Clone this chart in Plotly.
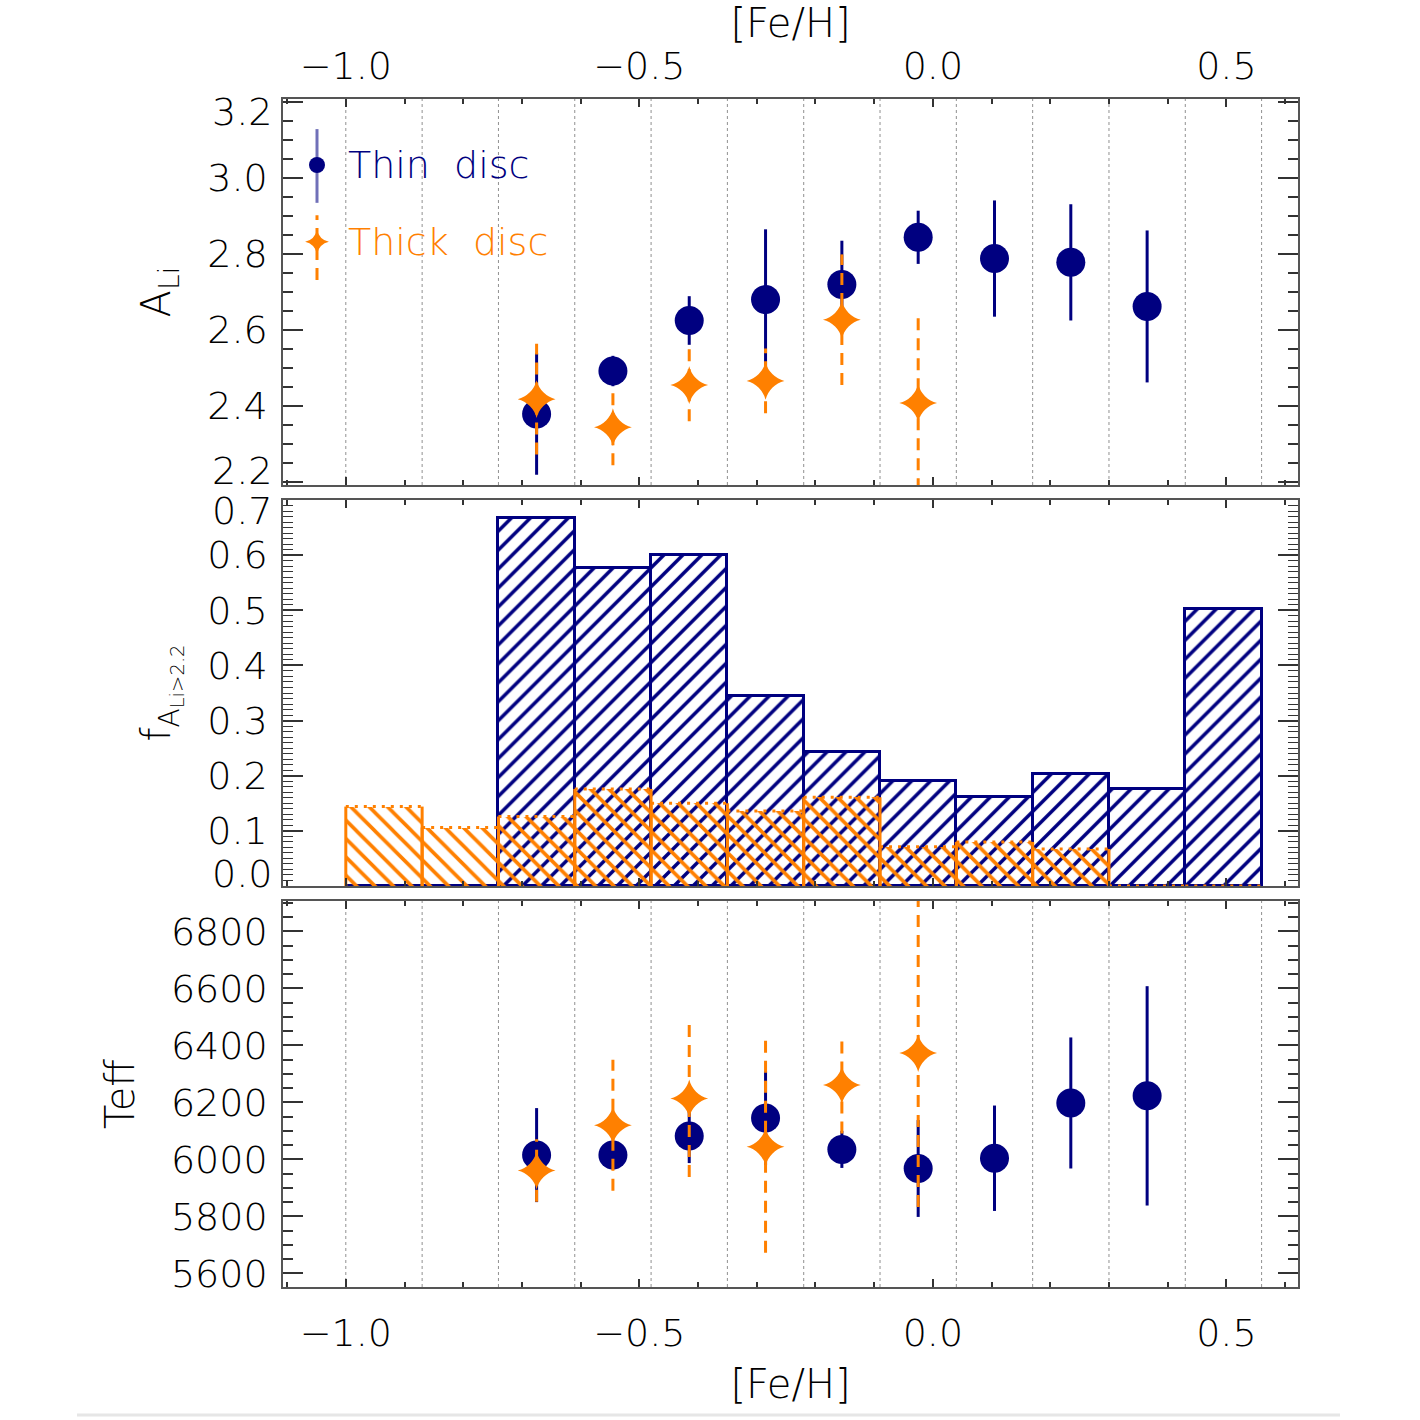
import plotly.graph_objects as go

# ---------------- data ----------------
bin_edges = [-1.00, -0.87, -0.74, -0.61, -0.48, -0.35, -0.22, -0.09, 0.04, 0.17, 0.30, 0.43, 0.56]
bin_centers = [-0.935, -0.805, -0.675, -0.545, -0.415, -0.285, -0.155, -0.025, 0.105, 0.235, 0.365, 0.495]

frac_thin = [0.0, 0.0, 0.667, 0.577, 0.601, 0.345, 0.243, 0.190, 0.161, 0.203, 0.176, 0.502]
frac_thick = [0.144, 0.106, 0.126, 0.176, 0.150, 0.136, 0.161, 0.071, 0.080, 0.067, 0.0, 0.0]

feh_thin = [-0.675, -0.545, -0.415, -0.285, -0.155, -0.025, 0.105, 0.235, 0.365]
li_thin = [2.379, 2.492, 2.625, 2.680, 2.720, 2.844, 2.788, 2.778, 2.662]
li_thin_err = [0.16, 0.04, 0.064, 0.185, 0.115, 0.07, 0.153, 0.153, 0.20]
teff_thin = [6015, 6015, 6082, 6145, 6035, 5968, 6004, 6198, 6223]
teff_thin_err = [165, 50, 95, 165, 65, 170, 185, 230, 385]

feh_thick = [-0.675, -0.545, -0.415, -0.285, -0.155, -0.025]
li_thick = [2.418, 2.344, 2.455, 2.466, 2.627, 2.408]
li_thick_err = [0.146, 0.10, 0.095, 0.085, 0.172, 0.23]
teff_thick = [5961, 6120, 6214, 6044, 6261, 6373]
teff_thick_err = [110, 230, 276, 372, 170, 540]

x_tickvals = [-1.0, -0.5, 0.0, 0.5]
li_ticks = [2.2, 2.4, 2.6, 2.8, 3.0, 3.2]
frac_ticks = [0.0, 0.1, 0.2, 0.3, 0.4, 0.5, 0.6, 0.7]
teff_ticks = [5600, 5800, 6000, 6200, 6400, 6600, 6800]

# ---------------- style ----------------
NAVY = "#000080"
ORANGE = "#ff8000"
FONT = "DejaVu Sans"
FW = 200
XR = [-1.107, 0.622]
XDOM = [283 / 1420, 1298 / 1420]


def ydom(top_px, bot_px):
    return [1 - bot_px / 1420, 1 - top_px / 1420]


def err_segments(xs, ys, es):
    X, Y = [], []
    for x, y, e in zip(xs, ys, es):
        X += [x, x, None]
        Y += [y - e, y + e, None]
    return X, Y


fig = go.Figure()

# ---------------- top panel: A(Li) ----------------
ex, ey = err_segments(feh_thin, li_thin, li_thin_err)
fig.add_trace(go.Scatter(x=ex, y=ey, mode="lines", line=dict(color=NAVY, width=3),
                         xaxis="x", yaxis="y", showlegend=False, hoverinfo="skip"))
fig.add_trace(go.Scatter(x=feh_thin, y=li_thin, mode="markers",
                         marker=dict(symbol="circle", size=29, color=NAVY),
                         xaxis="x", yaxis="y", showlegend=False))
ex, ey = err_segments(feh_thick, li_thick, li_thick_err)
fig.add_trace(go.Scatter(x=ex, y=ey, mode="lines", line=dict(color=ORANGE, width=3, dash="12px,8px"),
                         xaxis="x", yaxis="y", showlegend=False, hoverinfo="skip"))
fig.add_trace(go.Scatter(x=feh_thick, y=li_thick, mode="markers",
                         marker=dict(symbol="star-diamond", size=27, color=ORANGE),
                         xaxis="x", yaxis="y", showlegend=False))

# ---------------- middle panel: fractions ----------------
widths = [bin_edges[i + 1] - bin_edges[i] for i in range(len(bin_centers))]
fig.add_trace(go.Bar(x=bin_centers, y=frac_thin, width=widths, opacity=1,
                     marker=dict(color=NAVY, opacity=1, line=dict(color=NAVY, width=3),
                                 pattern=dict(shape="/", size=13.4, solidity=0.26, fgcolor=NAVY,
                                              fgopacity=1, fillmode="replace",
                                              bgcolor="rgba(0,0,0,0)")),
                     xaxis="x2", yaxis="y2", showlegend=False))
fig.add_trace(go.Bar(x=bin_centers, y=frac_thick, width=widths, opacity=1,
                     marker=dict(color=ORANGE, opacity=1, line=dict(width=0),
                                 pattern=dict(shape="\\", size=13.0, solidity=0.28, fgcolor=ORANGE,
                                              fgopacity=1, fillmode="replace",
                                              bgcolor="rgba(0,0,0,0)")),
                     xaxis="x2", yaxis="y2", showlegend=False))
# thick-disc outline: solid sides, dotted tops
vx, vy, tx, ty = [], [], [], []
for i, h in enumerate(frac_thick):
    l, r = bin_edges[i], bin_edges[i + 1]
    tx += [l, r, None]
    ty += [h, h, None]
    if h > 0:
        vx += [l, l, None, r, r, None]
        vy += [0, h, None, 0, h, None]
fig.add_trace(go.Scatter(x=vx, y=vy, mode="lines", line=dict(color=ORANGE, width=3),
                         xaxis="x2", yaxis="y2", showlegend=False, hoverinfo="skip"))
fig.add_trace(go.Scatter(x=tx, y=ty, mode="lines", line=dict(color=ORANGE, width=3, dash="3px,6px"),
                         xaxis="x2", yaxis="y2", showlegend=False, hoverinfo="skip", cliponaxis=False))

# ---------------- bottom panel: Teff ----------------
ex, ey = err_segments(feh_thin, teff_thin, teff_thin_err)
fig.add_trace(go.Scatter(x=ex, y=ey, mode="lines", line=dict(color=NAVY, width=3),
                         xaxis="x3", yaxis="y3", showlegend=False, hoverinfo="skip"))
fig.add_trace(go.Scatter(x=feh_thin, y=teff_thin, mode="markers",
                         marker=dict(symbol="circle", size=29, color=NAVY),
                         xaxis="x3", yaxis="y3", showlegend=False))
ex, ey = err_segments(feh_thick, teff_thick, teff_thick_err)
fig.add_trace(go.Scatter(x=ex, y=ey, mode="lines", line=dict(color=ORANGE, width=3, dash="12px,8px"),
                         xaxis="x3", yaxis="y3", showlegend=False, hoverinfo="skip"))
fig.add_trace(go.Scatter(x=feh_thick, y=teff_thick, mode="markers",
                         marker=dict(symbol="star-diamond", size=27, color=ORANGE),
                         xaxis="x3", yaxis="y3", showlegend=False))

# ---------------- legend (overlay axis in top panel) ----------------
fig.add_trace(go.Scatter(x=[0.0335, 0.0335], y=[0.731, 0.922], mode="lines",
                         line=dict(color="#7070b8", width=3), xaxis="x4", yaxis="y4",
                         showlegend=False, hoverinfo="skip"))
fig.add_trace(go.Scatter(x=[0.0335], y=[0.829], mode="markers",
                         marker=dict(symbol="circle", size=16, color=NAVY),
                         xaxis="x4", yaxis="y4", showlegend=False, hoverinfo="skip"))
fig.add_trace(go.Scatter(x=[0.0335, 0.0335], y=[0.531, 0.699], mode="lines",
                         line=dict(color=ORANGE, width=3, dash="12px,8px"), xaxis="x4", yaxis="y4",
                         showlegend=False, hoverinfo="skip"))
fig.add_trace(go.Scatter(x=[0.0335], y=[0.63], mode="markers",
                         marker=dict(symbol="star-diamond", size=17, color=ORANGE),
                         xaxis="x4", yaxis="y4", showlegend=False, hoverinfo="skip"))
fig.add_annotation(x=0.062, y=0.829, xref="x4", yref="y4", text="Thin  disc", showarrow=False,
                   xanchor="left", yanchor="middle", font=dict(family=FONT, size=38, color=NAVY, weight=FW))
fig.add_annotation(x=0.062, y=0.63, xref="x4", yref="y4", text="Thick  disc", showarrow=False,
                   xanchor="left", yanchor="middle", font=dict(family=FONT, size=38, color=ORANGE, weight=FW))

# ---------------- grid lines at bin edges ----------------
for e in bin_edges:
    for xr, yr in (("x", "y"), ("x3", "y3")):
        fig.add_shape(type="line", xref=xr, yref=yr + " domain", x0=e, x1=e, y0=0, y1=1,
                      line=dict(color="#909090", width=1, dash="dot"), layer="below")

# light grey rule at bottom of the page
fig.add_shape(type="line", xref="paper", yref="paper", x0=77 / 1420, x1=1340 / 1420,
              y0=1 - 1415 / 1420, y1=1 - 1415 / 1420, line=dict(color="#e6e6e6", width=3))

tickfont = dict(family=FONT, size=38, color="black", weight=FW)
titlefont = dict(family=FONT, size=40, color="black", weight=FW)
axcommon = dict(showline=True, linecolor="#555555", linewidth=1.5, ticks="inside", mirror="ticks",
                tickcolor="#333333", tickwidth=1.5, showgrid=False, zeroline=False, automargin=False,
                tickfont=tickfont)

xcommon = dict(axcommon, range=XR, domain=XDOM, tickvals=x_tickvals, tickformat=".1f", ticklen=8,
               minor=dict(dtick=0.1, tick0=0, ticklen=5, ticks="inside", tickcolor="#333333", tickwidth=1.5))


def edge_labels(ticks, fmt, yref, lo_shift, hi_shift):
    """Tick labels with the two end labels pulled inward (as in the original)."""
    text = [fmt.format(t) for t in ticks]
    shown = list(text)
    shown[0] = ""
    shown[-1] = ""
    for t, s, sh in ((ticks[0], text[0], lo_shift), (ticks[-1], text[-1], hi_shift)):
        fig.add_annotation(x=XDOM[0], xref="paper", y=t, yref=yref, text=s, showarrow=False,
                           xanchor="right", yanchor="middle", xshift=-9, yshift=sh,
                           font=tickfont)
    return shown


li_text = edge_labels(li_ticks, "{:.1f}", "y", 11, -10)
frac_text = edge_labels(frac_ticks, "{:.1f}", "y2", 12, -11)

fig.update_layout(
    width=1420, height=1420,
    margin=dict(l=0, r=0, t=0, b=0),
    paper_bgcolor="white", plot_bgcolor="rgba(0,0,0,0)",
    barmode="overlay", bargap=0,
    font=dict(family=FONT),
    xaxis=dict(xcommon, side="top", anchor="y", showticklabels=True, ticklabelstandoff=3,
               title=dict(text="[Fe/H]", font=titlefont, standoff=2)),
    xaxis2=dict(xcommon, anchor="y2", showticklabels=False, matches="x"),
    xaxis3=dict(xcommon, anchor="y3", showticklabels=True, ticklabelstandoff=12,
                title=dict(text="[Fe/H]", font=titlefont, standoff=16), matches="x"),
    xaxis4=dict(domain=XDOM, range=[0, 1], visible=False, anchor="y4", overlaying="x"),
    yaxis=dict(axcommon, domain=ydom(99, 485), anchor="x", range=[2.192, 3.208],
               tickvals=li_ticks, ticktext=li_text, ticklen=20, ticklabelstandoff=6,
               minor=dict(dtick=0.05, tick0=2.2, ticklen=10, ticks="inside", tickcolor="#333333", tickwidth=1.5),
               title=dict(text="A<sub>Li</sub>", font=titlefont, standoff=24)),
    yaxis2=dict(axcommon, domain=ydom(500, 886), anchor="x2", range=[0, 0.7],
                tickvals=frac_ticks, ticktext=frac_text, ticklen=20, ticklabelstandoff=6,
                minor=dict(dtick=0.01, tick0=0, ticklen=10, ticks="inside", tickcolor="#333333", tickwidth=1),
                title=dict(text="f<sub>A<sub>Li&gt;2.2</sub></sub>", font=titlefont, standoff=24)),
    yaxis3=dict(axcommon, domain=ydom(901, 1287), anchor="x3", range=[5552, 6907],
                tickvals=teff_ticks, ticklen=20, ticklabelstandoff=6,
                minor=dict(dtick=50, tick0=5600, ticklen=10, ticks="inside", tickcolor="#333333", tickwidth=1.5),
                title=dict(text="Teff", font=titlefont, standoff=24)),
    yaxis4=dict(domain=ydom(99, 485), range=[0, 1], visible=False, anchor="x4", overlaying="y"),
)

fig.write_html("out.html")
